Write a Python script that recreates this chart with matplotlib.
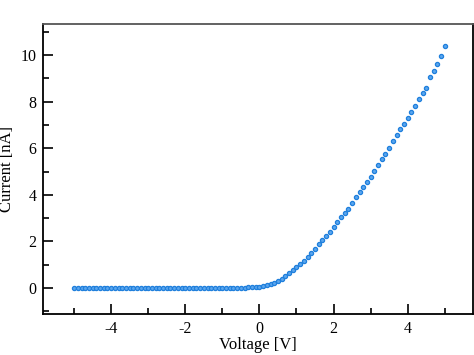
import matplotlib
matplotlib.use("Agg")
import matplotlib.pyplot as plt
from matplotlib.ticker import MultipleLocator

plt.rcParams["font.family"] = ["Liberation Serif", "DejaVu Serif"]
plt.rcParams["axes.unicode_minus"] = False

# ---- data: voltage sweep (V) and measured current (nA) ----
voltage = [round(-5.0 + 0.1 * i, 1) for i in range(101)]

current_neg = [
    0.0, 0.0, 0.0, 0.0, 0.0, 0.0, 0.0, 0.0, 0.0, 0.0,
    0.0, 0.0, 0.0, 0.0, 0.0, 0.0, 0.0, 0.0, 0.0, 0.0,
    0.0, 0.0, 0.0, 0.0, 0.0, 0.0, 0.0, 0.0, 0.0, 0.0,
    0.0, 0.0, 0.0, 0.0, 0.0, 0.0, 0.0, 0.0, 0.0, 0.0,
    0.0, 0.0, 0.0, 0.0, 0.0, 0.01, 0.01, 0.02, 0.02, 0.03,
]
current_pos = [
    0.05, 0.07, 0.11, 0.16, 0.22, 0.29, 0.38, 0.50, 0.64, 0.76,
    0.89, 1.02, 1.17, 1.33, 1.50, 1.68, 1.87, 2.05, 2.24, 2.42,
    2.61, 2.82, 3.03, 3.22, 3.41, 3.66, 3.90, 4.11, 4.32, 4.55,
    4.78, 5.03, 5.28, 5.52, 5.76, 6.02, 6.29, 6.55, 6.82, 7.05,
    7.29, 7.54, 7.82, 8.12, 8.37, 8.57, 9.04, 9.31, 9.63, 9.97,
    10.39,
]
current = current_neg + current_pos

x_major = [-4, -2, 0, 2, 4]
y_major = [0, 2, 4, 6, 8, 10]

fig = plt.figure(figsize=(4.74, 3.55), dpi=100)
ax = fig.add_axes([0.0907, 0.1155, 0.907, 0.8165])

ax.plot(voltage, current, "o", ls="none", ms=3.0, mfc="#5aa6ee",
        mec="#1f7fdc", mew=0.9)

ax.set_xlim(-5.84, 5.76)
ax.set_ylim(-1.12, 11.33)
ax.set_xticks(x_major)
ax.set_yticks(y_major)
ax.xaxis.set_minor_locator(MultipleLocator(1))
ax.yaxis.set_minor_locator(MultipleLocator(1))

ax.tick_params(which="both", direction="in", top=False, right=False,
               labelsize=11.5, width=1.2)
ax.tick_params(which="major", length=7)
ax.tick_params(which="minor", length=4.3)
ax.tick_params(axis="x", pad=5)
ax.tick_params(axis="y", pad=4.5)

for s in ax.spines.values():
    s.set_linewidth(1.3)
ax.spines["top"].set_color("#555555")

ax.set_xlabel("Voltage [V]", fontsize=12, labelpad=0)
ax.set_ylabel("Current [nA]", fontsize=12, labelpad=4)

fig.savefig("out.png", dpi=100)
